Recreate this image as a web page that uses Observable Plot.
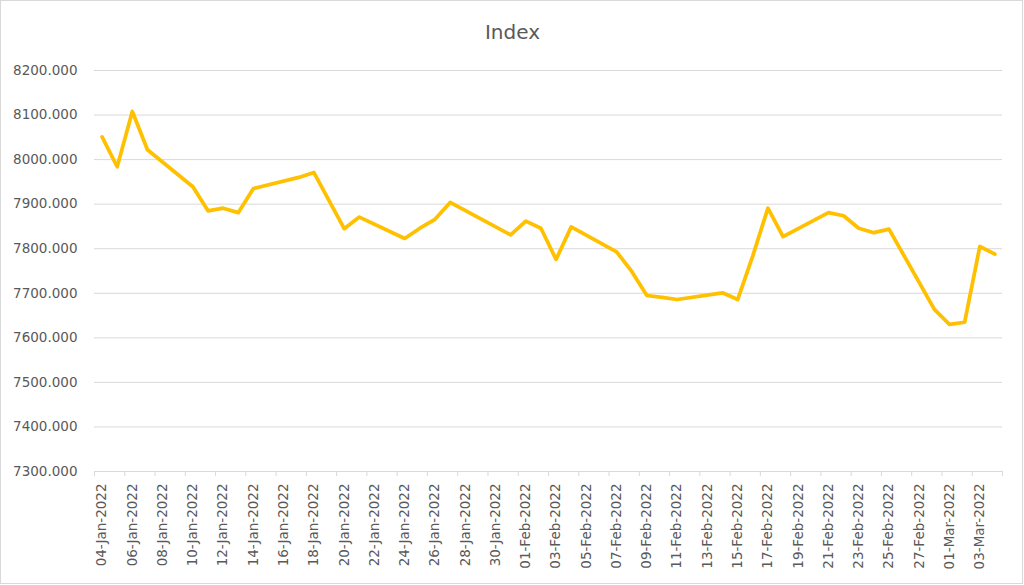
<!DOCTYPE html>
<html><head><meta charset="utf-8">
<script src="https://cdn.jsdelivr.net/npm/d3@7"></script>
<script src="https://cdn.jsdelivr.net/npm/@observablehq/plot@0.6"></script>
<style>
html,body{margin:0;padding:0;background:#fff;}
#chart{position:relative;width:1024px;height:585px;overflow:hidden;}
#chart svg{display:block;}
#border{position:absolute;left:0;top:0;width:1021px;height:582px;border:1px solid #d9d9d9;pointer-events:none;}
</style></head><body><div id="chart"><div id="border"></div></div>
<script>
const title = "Index";
const dates = ["2022-01-04","2022-01-05","2022-01-06","2022-01-07","2022-01-10","2022-01-11","2022-01-12","2022-01-13","2022-01-14","2022-01-17","2022-01-18","2022-01-20","2022-01-21","2022-01-24","2022-01-25","2022-01-26","2022-01-27","2022-01-31","2022-02-01","2022-02-02","2022-02-03","2022-02-04","2022-02-07","2022-02-08","2022-02-09","2022-02-10","2022-02-11","2022-02-14","2022-02-15","2022-02-16","2022-02-17","2022-02-18","2022-02-21","2022-02-22","2022-02-23","2022-02-24","2022-02-25","2022-02-28","2022-03-01","2022-03-02","2022-03-03","2022-03-04"];
const values = [8051,7984,8108,8022,7939,7885,7891,7881,7935,7960,7971,7845,7871,7823,7846,7866,7904,7831,7862,7846,7776,7849,7793,7749,7695,7691,7686,7701,7686,7784,7891,7827,7881,7874,7846,7836,7844,7664,7630,7635,7805,7788];
const yTicks = [7300,7400,7500,7600,7700,7800,7900,8000,8100,8200];
const axisStart = "2022-01-04";
const axisEnd = "2022-03-05";

const parse = d3.utcParse("%Y-%m-%d");
const start = parse(axisStart), end = parse(axisEnd);
const noon = d => d3.utcHour.offset(d, 12);
const data = dates.map((d, i) => ({date: noon(parse(d)), value: values[i]}));
const boundaryTicks = d3.range(0, 61, 2).map(k => d3.utcDay.offset(start, k));
const labelTicks = d3.range(0, 60, 2).map(k => noon(d3.utcDay.offset(start, k)));
const yMin = yTicks[0], yMax = yTicks[yTicks.length - 1];

const W = 1024, ML = 94, MR = 22;
const chart = Plot.plot({
  width: W, height: 585,
  marginTop: 70, marginBottom: 114, marginLeft: ML, marginRight: MR,
  style: {fontFamily: "DejaVu Sans", fontSize: "13.5px", color: "#595959", background: "#fff"},
  x: {type: "utc", domain: [start, end], label: null},
  y: {domain: [yMin, yMax], label: null},
  marks: [
    Plot.gridY(yTicks, {stroke: "#d9d9d9", strokeOpacity: 1, strokeWidth: 1}),
    Plot.axisY(yTicks, {tickSize: 0, tickPadding: 17, tickFormat: d3.format(".3f"), fontSize: 13.5, label: null}),
    Plot.ruleX(boundaryTicks, {x: d => d, y1: yMin, y2: yMin, insetBottom: -5, stroke: "#d9d9d9", strokeWidth: 1}),
    Plot.axisX(labelTicks, {tickSize: 0, tickRotate: -90, tickPadding: 12, tickFormat: d3.utcFormat("%d-%b-%Y"), fontSize: 13.5, label: null}),
    Plot.ruleY([yMin], {stroke: "#d9d9d9", strokeWidth: 1}),
    Plot.line(data, {x: "date", y: "value", stroke: "#FFC000", strokeWidth: 3.75, strokeLinejoin: "round", strokeLinecap: "round"}),
    Plot.text([title], {frameAnchor: "top", lineAnchor: "middle", dy: -38, dx: W / 2 - (ML + (W - ML - MR) / 2), fontSize: 20, fill: "#595959"})
  ]
});
document.getElementById("chart").prepend(chart);
</script>
</body></html>
